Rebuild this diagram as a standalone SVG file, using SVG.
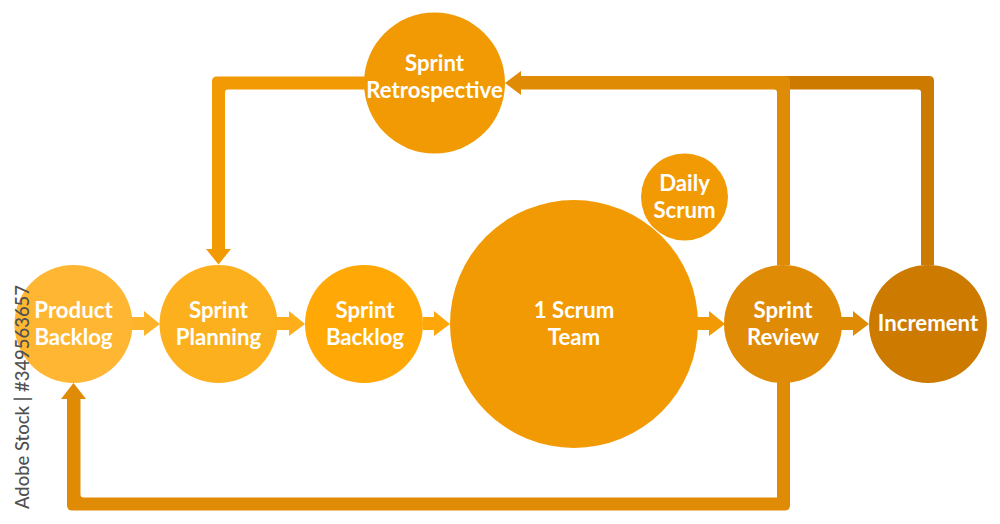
<svg xmlns="http://www.w3.org/2000/svg" width="1000" height="524" viewBox="0 0 1000 524">
<style>
text{font-family:Lato,"Open Sans",sans-serif;font-weight:700;font-size:22.200px;fill:#fff;text-anchor:middle}
.stock{font-size:19.500px;font-weight:500;fill:#505050;text-anchor:start}
</style>
<rect width="1000" height="524" fill="#fff"/>
<g id="connectors">
<path id="increment-to-retro" fill="#cc7a00" d="M921 265V92.500Q921 89.500 918 89.500H780V76H929Q934 76 934 81V265Z"/>
<path id="review-to-retro" fill="#e08b05" d="M777 265V92.500Q777 89.500 774 89.500H521V95L505 83L521 71V76H785Q790 76 790 81V265Z"/>
<path id="retro-to-planning" fill="#f29a03" d="M365 76.500H217Q212 76.500 212 81.500V249H206L218.500 264.500L231 249H225V92.500Q225 89.500 228 89.500H365Z"/>
<path id="review-to-backlog" fill="#e08b05" d="M777 382V497.500H83.500Q80.500 497.500 80.500 494.500V399H86L73.500 383L61 399H67V505.500Q67 510.500 72 510.500H785Q790 510.500 790 505.500V382Z"/>
<path id="a1" fill="#fdb32a" d="M132 317H144V311L160 324L144 336V330H132Z"/>
<path id="a2" fill="#fdae1a" d="M277 317H289V311L305 324L289 336V330H277Z"/>
<path id="a3" fill="#ffa608" d="M423 317H434V311L450 324L434 336V330H423Z"/>
<path id="a4" fill="#f29a03" d="M697 317H709V311L725 324L709 336V330H697Z"/>
<path id="a5" fill="#e08b05" d="M841 317H853V311L869 324L853 336V330H841Z"/>
</g>
<g id="product-backlog"><circle cx="73.500" cy="324" r="59" fill="#ffb733"/><text x="73.500" y="317.500">Product</text><text x="73.500" y="344.500">Backlog</text></g>
<g id="sprint-planning"><circle cx="218.500" cy="324" r="59" fill="#fdb01e"/><text x="218.500" y="317.500">Sprint</text><text x="218.500" y="344.500">Planning</text></g>
<g id="sprint-backlog"><circle cx="364" cy="324" r="59" fill="#ffa806"/><text x="365" y="317.500">Sprint</text><text x="365" y="344.500">Backlog</text></g>
<g id="scrum-team"><circle cx="574" cy="324" r="124" fill="#f29a03"/><text x="574" y="317.500">1 Scrum</text><text x="574" y="344.500">Team</text></g>
<g id="daily-scrum"><circle cx="684.500" cy="197" r="43.500" fill="#f29a03"/><text x="684.500" y="190.500">Daily</text><text x="684.500" y="217.500">Scrum</text></g>
<g id="sprint-retrospective"><circle cx="434.500" cy="83" r="70.500" fill="#f29a03"/><text x="434.500" y="70.500">Sprint</text><text x="434.500" y="97.500">Retrospective</text></g>
<g id="sprint-review"><circle cx="783" cy="324" r="59" fill="#e08b05"/><text x="783" y="317.500">Sprint</text><text x="783" y="344.500">Review</text></g>
<g id="increment"><circle cx="928" cy="324" r="59" fill="#cc7a00"/><text x="928" y="331">Increment</text></g>
<text class="stock" transform="translate(29 509) rotate(-90)" textLength="224" lengthAdjust="spacingAndGlyphs">Adobe Stock | #349563657</text>
</svg>
